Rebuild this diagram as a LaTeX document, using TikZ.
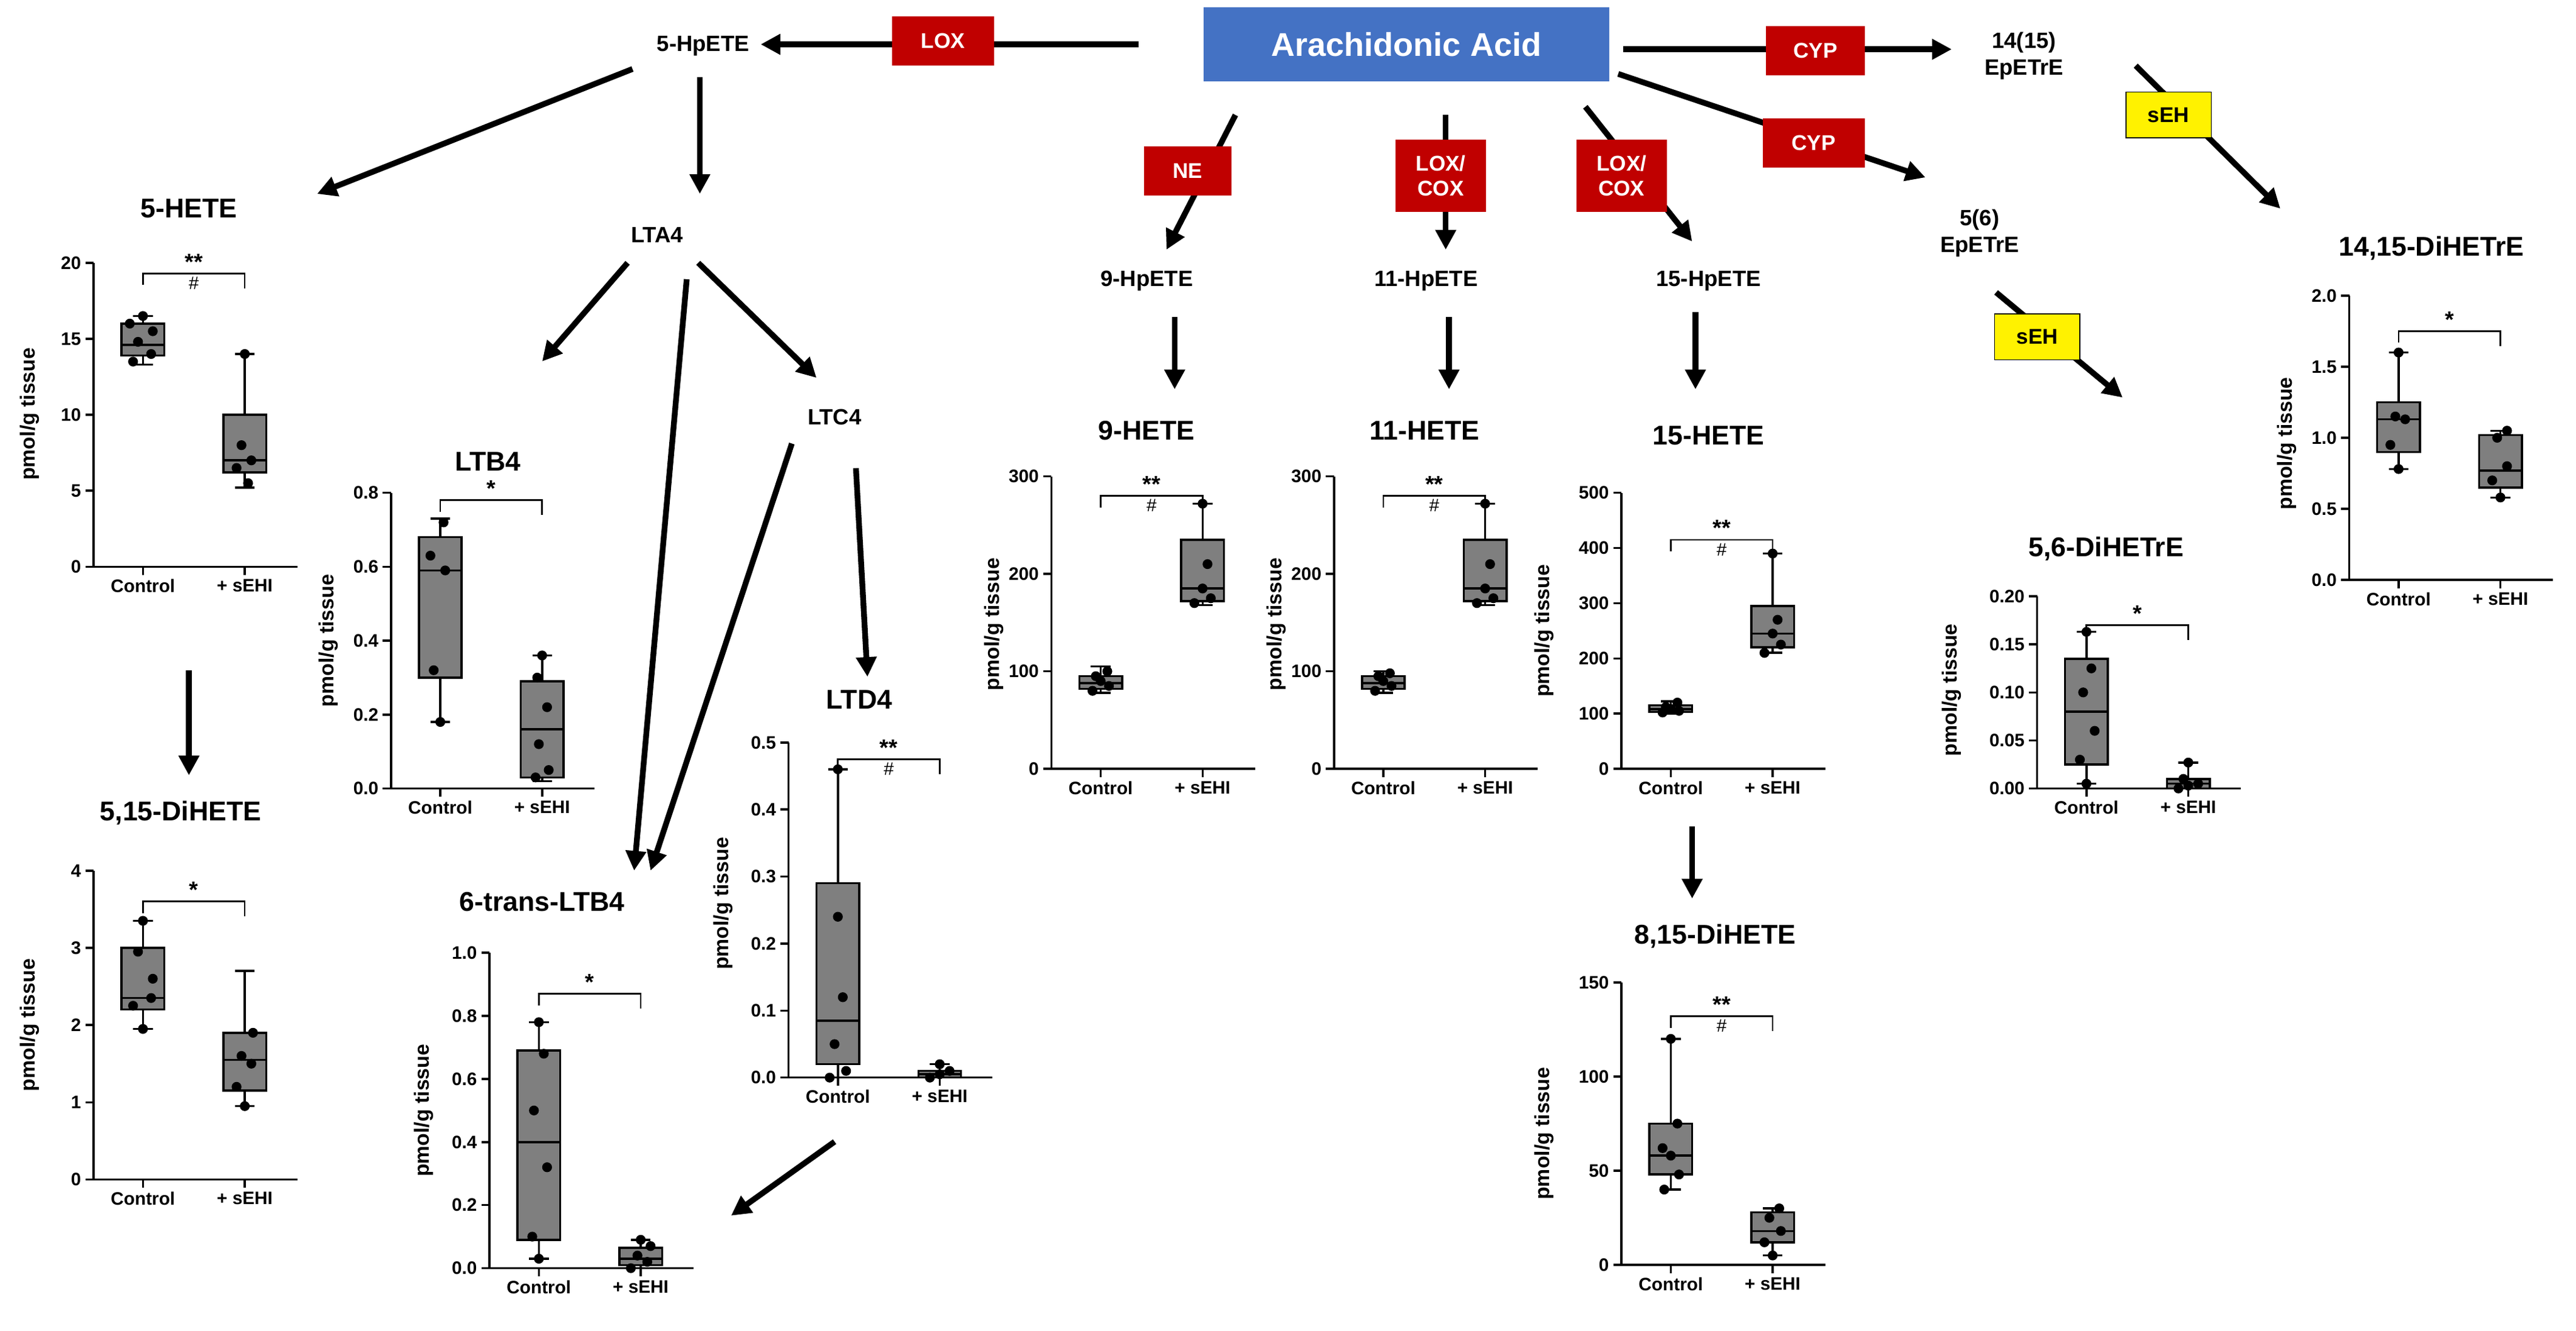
\documentclass[tikz,border=0pt]{standalone}
\usepackage{fontspec}
\setmainfont{Liberation Sans}
\usetikzlibrary{arrows.meta}
\definecolor{redb}{HTML}{C00000}
\definecolor{blueb}{HTML}{4472C4}
\definecolor{boxg}{HTML}{7F7F7F}
\tikzset{
 arr/.style={line width=3.5pt,-{Triangle[length=12pt,width=12pt]}},
 ax/.style={line width=1.3pt},
 tick/.style={font=\fontsize{11}{13}\selectfont\bfseries,inner sep=2pt},
 ttl/.style={font=\fontsize{16.5}{19}\selectfont\bfseries},
 ylab/.style={font=\fontsize{12.5}{15}\selectfont\bfseries,rotate=90},
 lab/.style={font=\fontsize{13.5}{16}\selectfont\bfseries,align=center,inner sep=1pt},
 enz/.style={fill=redb,text=white,font=\fontsize{13}{15}\selectfont\bfseries,align=center,minimum height=30pt,inner sep=3pt},
 seh/.style={fill=yellow,draw=black,line width=0.6pt,font=\fontsize{13}{15}\selectfont\bfseries,minimum width=52pt,minimum height=28pt},
 boxs/.style={fill=boxg,draw=black,line width=1.3pt},
}
\newcommand\bx[7]{% xc min q1 med q3 max dots
 \draw[ax] (#1,#2)--(#1,#3) (#1,#5)--(#1,#6) ([xshift=-6pt]#1,#2)--([xshift=6pt]#1,#2) ([xshift=-6pt]#1,#6)--([xshift=6pt]#1,#6);
 \filldraw[boxs] ([xshift=-13pt]#1,#3) rectangle ([xshift=13pt]#1,#5);
 \draw[ax] ([xshift=-13pt]#1,#4)--([xshift=13pt]#1,#4);
 \foreach \d/\j in {#7}{\fill ([xshift=\j pt]#1,\d) circle (3pt);}}
\newcommand\frm[2]{%
 \draw[ax] (0,#2)--(0,0)--(124,0);
 \foreach \v/\l in {#1}{\draw[ax] (0,\v)--++(-5pt,0pt) node[left,tick]{\l};}
 \draw[ax] (30,0)--++(0pt,-5pt) node[below,tick]{Control};
 \draw[ax] (92,0)--++(0pt,-5pt) node[below,tick]{+ sEHI};}
\newcommand\sig[3]{%
 \draw[line width=1pt] ([yshift=-7pt]30,#1)--(30,#1)--(92,#1)--([yshift=-9pt]92,#1);
 \node[tick,above,font=\fontsize{14}{16}\selectfont\bfseries] at (61,#1) {#2};
 \node[tick,below,font=\fontsize{11}{13}\selectfont] at (61,#1) {#3};}
\begin{document}
\begin{tikzpicture}[x=1pt,y=-1pt]
\useasboundingbox (0,0) rectangle (1568,810);
% pathway top
\node[fill=blueb,text=white,font=\fontsize{20}{24}\selectfont\bfseries,minimum width=247pt,minimum height=45pt] (aa) at (856,27) {Arachidonic Acid};
\node[lab] (hp5) at (428,28) {5-HpETE};
\draw[arr] (693,27)--(463,27);
\node[enz,minimum width=62pt] (lox) at (574,25) {LOX};
\draw[arr] (988,30)--(1188,30);
\node[enz,minimum width=60pt] (cyp1) at (1105,31) {CYP};
\node[lab] (ep14) at (1232,34) {14(15)\\EpETrE};
\draw[arr] (985,45)--(1172,108);
\node[enz,minimum width=62pt] (cyp2) at (1104,87) {CYP};
\node[lab] (ep5) at (1205,142) {5(6)\\EpETrE};
\draw[arr] (1300,40)--(1388,127);
\node[seh] (seh1) at (1320,70) {sEH};
\draw[arr] (1215,178)--(1292,242);
\node[seh] (seh2) at (1240,205) {sEH};
\draw[arr] (752,70)--(710,152);
\node[enz,minimum width=53pt] (ne) at (723,104) {NE};
\draw[arr] (880,70)--(880,152);
\node[enz,minimum width=55pt,minimum height=44pt] (lc1) at (877,107) {LOX/\\COX};
\draw[arr] (965,65)--(1030,147);
\node[enz,minimum width=55pt,minimum height=44pt] (lc2) at (987,107) {LOX/\\COX};
\node[lab] (hp9) at (698,171) {9-HpETE};
\node[lab] (hp11) at (868,171) {11-HpETE};
\node[lab] (hp15) at (1040,171) {15-HpETE};
\draw[arr] (715,193)--(715,237);
\draw[arr] (882,193)--(882,237);
\draw[arr] (1032,190)--(1032,237);
\draw[arr] (1030,503)--(1030,547);
\draw[arr] (385,42)--(193,118);
\draw[arr] (426,47)--(426,118);
\node[lab] (lta4) at (400,143) {LTA4};
\draw[arr] (382,160)--(330,220);
\draw[arr] (425,160)--(497,230);
\node[lab] (ltc4) at (508,254) {LTC4};
\draw[arr] (418,170)--(386,530);
\draw[arr] (482,270)--(396,530);
\draw[arr] (521,285)--(528,412);
\draw[arr] (508,695)--(445,740);
\draw[arr] (115,408)--(115,472);
% 5-HETE
\node[ttl] (t1) at (115,127) {5-HETE};
\node[ylab] (y1) at (18,252) {pmol/g tissue};
\begin{scope}[shift={(57,345)},y={(0pt,9.25pt)}]
\frm{0/0,5/5,10/10,15/15,20/20}{20}
\bx{30}{13.3}{13.9}{14.6}{16}{16.5}{13.5/-6,14/5,14.8/-3,15.5/6,16.5/0,16/-8}
\bx{92}{5.2}{6.2}{7}{10}{14}{5.5/2,6.5/-5,7/4,8/-2,14/0}
\sig{19.3}{**}{\#}
\end{scope}
% 5,15-DiHETE
\node[ttl] (t2) at (110,495) {5,15-DiHETE};
\node[ylab] (y2) at (18,624) {pmol/g tissue};
\begin{scope}[shift={(57,718)},y={(0pt,47pt)}]
\frm{0/0,1/1,2/2,3/3,4/4}{4}
\bx{30}{1.95}{2.2}{2.35}{3.0}{3.35}{1.95/0,2.25/-6,2.35/5,2.95/-3,3.35/0,2.6/6}
\bx{92}{0.95}{1.15}{1.55}{1.9}{2.7}{0.95/0,1.2/-5,1.5/4,1.6/-2,1.9/5}
\sig{3.6}{*}{}
\end{scope}
% LTB4
\node[ttl] (t3) at (297,281) {LTB4};
\node[ylab] (y3) at (200,390) {pmol/g tissue};
\begin{scope}[shift={(238,480)},y={(0pt,225pt)}]
\frm{0/0.0,0.2/0.2,0.4/0.4,0.6/0.6,0.8/0.8}{0.8}
\bx{30}{0.18}{0.3}{0.59}{0.68}{0.73}{0.18/0,0.32/-4,0.59/3,0.63/-6,0.72/2}
\bx{92}{0.02}{0.03}{0.16}{0.29}{0.36}{0.03/-4,0.05/4,0.12/-2,0.22/3,0.3/-3,0.36/0}
\sig{0.78}{*}{}
\end{scope}
% 6-trans-LTB4
\node[ttl] (t4) at (330,549) {6-trans-LTB4};
\node[ylab] (y4) at (258,676) {pmol/g tissue};
\begin{scope}[shift={(298,772)},y={(0pt,192pt)}]
\frm{0/0.0,0.2/0.2,0.4/0.4,0.6/0.6,0.8/0.8,1/1.0}{1}
\bx{30}{0.03}{0.09}{0.4}{0.69}{0.78}{0.03/0,0.1/-4,0.32/5,0.5/-3,0.68/3,0.78/0}
\bx{92}{0.0}{0.01}{0.03}{0.065}{0.09}{0.0/-6,0.02/4,0.04/-2,0.07/6,0.09/0}
\sig{0.87}{*}{}
\end{scope}
% LTD4
\node[ttl] (t5) at (523,426) {LTD4};
\node[ylab] (y5) at (440,550) {pmol/g tissue};
\begin{scope}[shift={(480,656)},y={(0pt,408pt)}]
\frm{0/0.0,0.1/0.1,0.2/0.2,0.3/0.3,0.4/0.4,0.5/0.5}{0.5}
\bx{30}{0.0}{0.02}{0.085}{0.29}{0.46}{0.0/-5,0.01/5,0.05/-2,0.12/3,0.24/0,0.46/0}
\bx{92}{0}{0}{0.005}{0.01}{0.02}{0.0/-6,0.005/0,0.01/6,0.02/0}
\sig{0.475}{**}{\#}
\end{scope}
% 9-HETE
\node[ttl] (t6) at (698,262) {9-HETE};
\node[ylab] (y6) at (605,380) {pmol/g tissue};
\begin{scope}[shift={(640,468)},y={(0pt,0.5933pt)}]
\frm{0/0,100/100,200/200,300/300}{300}
\bx{30}{78}{82}{88}{95}{105}{80/-5,85/5,90/0,95/-3,100/4}
\bx{92}{168}{172}{185}{235}{272}{170/-5,175/5,185/0,210/3,272/0}
\sig{280}{**}{\#}
\end{scope}
% 11-HETE
\node[ttl] (t7) at (867,262) {11-HETE};
\node[ylab] (y7) at (777,380) {pmol/g tissue};
\begin{scope}[shift={(812,468)},y={(0pt,0.5933pt)}]
\frm{0/0,100/100,200/200,300/300}{300}
\bx{30}{78}{82}{88}{95}{100}{80/-5,85/5,90/0,95/-3,98/4}
\bx{92}{168}{172}{185}{235}{272}{170/-5,175/5,185/0,210/3,272/0}
\sig{280}{**}{\#}
\end{scope}
% 15-HETE
\node[ttl] (t8) at (1040,265) {15-HETE};
\node[ylab] (y8) at (940,384) {pmol/g tissue};
\begin{scope}[shift={(987,468)},y={(0pt,0.336pt)}]
\frm{0/0,100/100,200/200,300/300,400/400,500/500}{500}
\bx{30}{100}{103}{108}{115}{122}{102/-5,105/5,108/0,112/-3,120/4}
\bx{92}{210}{220}{245}{295}{390}{210/-5,225/5,245/0,270/3,390/0}
\sig{415}{**}{\#}
\end{scope}
% 8,15-DiHETE
\node[ttl] (t9) at (1044,570) {8,15-DiHETE};
\node[ylab] (y9) at (940,690) {pmol/g tissue};
\begin{scope}[shift={(987,770)},y={(0pt,1.1467pt)}]
\frm{0/0,50/50,100/100,150/150}{150}
\bx{30}{40}{48}{58}{75}{120}{40/-4,48/5,58/0,62/-5,75/4,120/0}
\bx{92}{5}{12}{18}{28}{30}{5/0,12/-5,18/5,25/-2,30/4}
\sig{132}{**}{\#}
\end{scope}
% 5,6-DiHETrE
\node[ttl] (t10) at (1282,334) {5,6-DiHETrE};
\node[ylab] (y10) at (1188,420) {pmol/g tissue};
\begin{scope}[shift={(1240,480)},y={(0pt,585pt)}]
\frm{0/0.00,0.05/0.05,0.1/0.10,0.15/0.15,0.2/0.20}{0.2}
\bx{30}{0.005}{0.025}{0.08}{0.135}{0.163}{0.005/0,0.03/-4,0.06/5,0.1/-2,0.125/3,0.163/0}
\bx{92}{0}{0}{0.005}{0.01}{0.027}{0.0/-6,0.003/0,0.005/6,0.01/-3,0.027/0}
\sig{0.17}{*}{}
\end{scope}
% 14,15-DiHETrE
\node[ttl] (t11) at (1480,151) {14,15-DiHETrE};
\node[ylab] (y11) at (1392,270) {pmol/g tissue};
\begin{scope}[shift={(1430,353)},y={(0pt,86.5pt)}]
\frm{0/0.0,0.5/0.5,1/1.0,1.5/1.5,2/2.0}{2}
\bx{30}{0.78}{0.9}{1.13}{1.25}{1.6}{0.78/0,0.95/-5,1.13/4,1.15/-2,1.6/0}
\bx{92}{0.58}{0.65}{0.77}{1.02}{1.05}{0.58/0,0.7/-5,0.8/4,1.0/-2,1.05/4}
\sig{1.75}{*}{}
\end{scope}
\end{tikzpicture}
\end{document}
